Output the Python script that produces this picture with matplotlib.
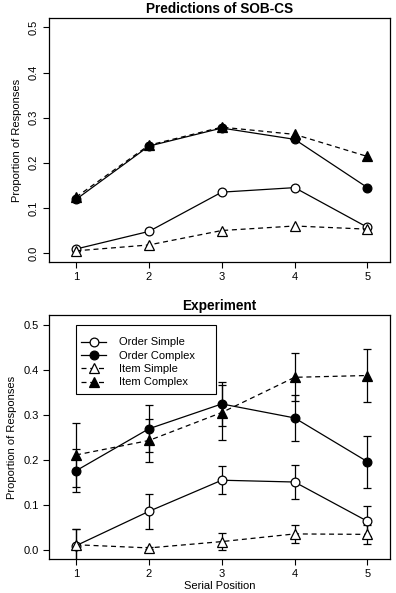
import numpy as np
import matplotlib
matplotlib.use("Agg")
import matplotlib.pyplot as plt
from matplotlib.patches import Rectangle

plt.rcParams['font.family'] = ['Liberation Sans', 'DejaVu Sans']

positions = [1, 2, 3, 4, 5]

# predictions of SOB-CS
pred_order_simple = [0.009, 0.048, 0.135, 0.145, 0.057]
pred_order_complex = [0.119, 0.237, 0.277, 0.252, 0.145]
pred_item_simple = [0.005, 0.018, 0.050, 0.060, 0.053]
pred_item_complex = [0.124, 0.239, 0.279, 0.263, 0.214]

# experiment means and error bar half widths
exp_order_simple = [0.010, 0.086, 0.155, 0.151, 0.064]
err_order_simple = [0.038, 0.038, 0.031, 0.038, 0.033]
exp_order_complex = [0.176, 0.269, 0.324, 0.293, 0.196]
err_order_complex = [0.048, 0.052, 0.049, 0.051, 0.058]
exp_item_simple = [0.012, 0.005, 0.019, 0.036, 0.035]
err_item_simple = [0.036, 0.003, 0.018, 0.020, 0.021]
exp_item_complex = [0.211, 0.243, 0.305, 0.383, 0.387]
err_item_complex = [0.071, 0.047, 0.062, 0.053, 0.058]

labels = ["Order Simple", "Order Complex", "Item Simple", "Item Complex"]
yticks = [0.0, 0.1, 0.2, 0.3, 0.4, 0.5]

styles = [
    dict(marker='o', mfc='white', ls='-', ms=6.3),
    dict(marker='o', mfc='black', ls='-', ms=6.3),
    dict(marker='^', mfc='white', ls=(0, (4, 3)), ms=7.8),
    dict(marker='^', mfc='black', ls=(0, (4, 3)), ms=7.8),
]

fs = 8

fig = plt.figure(figsize=(3.96, 5.93), dpi=100)
ax1 = fig.add_axes([0.124, 0.558, 0.861, 0.411])
ax2 = fig.add_axes([0.124, 0.057, 0.861, 0.411])

pred = [pred_order_simple, pred_order_complex, pred_item_simple, pred_item_complex]
for ys, st in zip(pred, styles):
    ax1.plot(positions, ys, color='black', mec='black', mew=0.9, lw=0.9,
             marker=st['marker'], mfc=st['mfc'], ls=st['ls'], ms=st['ms'])

exp = [exp_order_simple, exp_order_complex, exp_item_simple, exp_item_complex]
errs = [err_order_simple, err_order_complex, err_item_simple, err_item_complex]
for ys, es, st, lab in zip(exp, errs, styles, labels):
    ax2.errorbar(positions, ys, yerr=es, color='black', ecolor='black',
                 elinewidth=0.9, capsize=2.8, capthick=0.9, lw=0.9,
                 marker=st['marker'], mfc=st['mfc'], mec='black', mew=0.9,
                 ls=st['ls'], ms=st['ms'], label=lab)

for ax in (ax1, ax2):
    ax.set_xlim(0.63, 5.31)
    ax.set_ylim(-0.02, 0.52)
    ax.set_xticks(positions)
    ax.set_yticks(yticks)
    ax.set_yticklabels(["%.1f" % v for v in yticks])
    ax.tick_params(direction='out', length=4.3, width=0.8, labelsize=fs, pad=3)
    ax.set_ylabel("Proportion of Responses", fontsize=fs, labelpad=5)
    for s in ax.spines.values():
        s.set_linewidth(0.9)

for lab in ax1.get_yticklabels():
    lab.set_rotation(90)
    lab.set_va('center')

ax1.set_title("Predictions of SOB-CS", fontsize=9.8, fontweight='bold', pad=4)
ax2.set_title("Experiment", fontsize=9.8, fontweight='bold', pad=4)
ax2.set_xlabel("Serial Position", fontsize=fs, labelpad=1)

# R-style legend box, wider on the right than the entries
ax2.add_patch(Rectangle((0.078, 0.677), 0.411, 0.282, transform=ax2.transAxes,
                        facecolor='white', edgecolor='black', lw=0.8, zorder=5))
handles, labs = ax2.get_legend_handles_labels()
handles = [h[0] for h in handles]
leg = ax2.legend(handles, labs, loc='upper left', bbox_to_anchor=(0.093, 0.91),
                 borderaxespad=0, borderpad=0, fontsize=fs, frameon=False,
                 handlelength=2.3, handletextpad=1.1, labelspacing=0.3)
leg.set_zorder(6)

fig.savefig("out.png", dpi=100)
